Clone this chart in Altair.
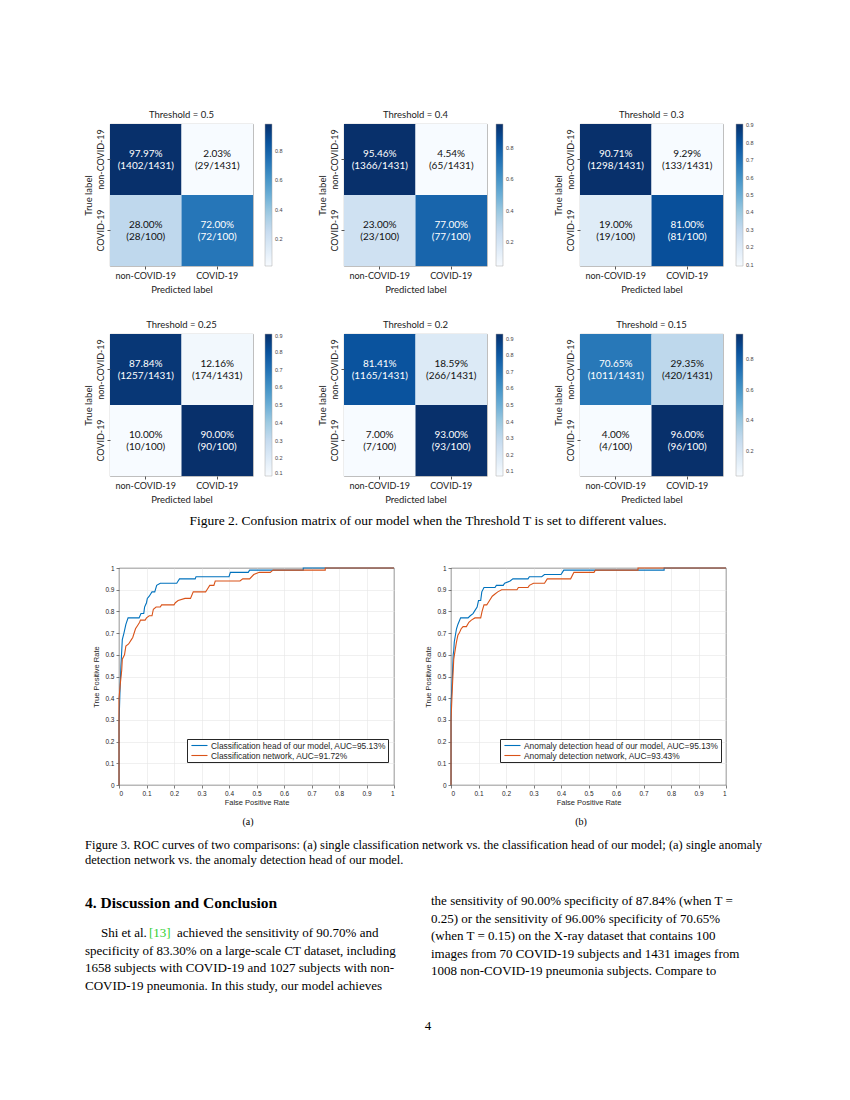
import altair as alt
import pandas as pd
import numpy as np

# ---------------- data ----------------
CLASSES = ["non-COVID-19", "COVID-19"]
THRESHOLDS = ["0.5", "0.4", "0.3", "0.25", "0.2", "0.15"]
NEG_TOTAL = 1431
POS_TOTAL = 100
TN = [1402, 1366, 1298, 1257, 1165, 1011]
FP = [29, 65, 133, 174, 266, 420]
FN = [28, 23, 19, 10, 7, 4]
TP = [72, 77, 81, 90, 93, 96]
CBAR_TICKS = [
    [0.2, 0.4, 0.6, 0.8],
    [0.2, 0.4, 0.6, 0.8],
    [0.1, 0.2, 0.3, 0.4, 0.5, 0.6, 0.7, 0.8, 0.9],
    [0.1, 0.2, 0.3, 0.4, 0.5, 0.6, 0.7, 0.8, 0.9],
    [0.1, 0.2, 0.3, 0.4, 0.5, 0.6, 0.7, 0.8, 0.9],
    [0.2, 0.4, 0.6, 0.8],
]

ROC_TICKS = [0, 0.1, 0.2, 0.3, 0.4, 0.5, 0.6, 0.7, 0.8, 0.9, 1]

ROC_A_NAMES = ["Classification head of our model, AUC=95.13%",
               "Classification network, AUC=91.72%"]
ROC_A_BLUE_FPR = [0, 0, 0.004, 0.007, 0.01, 0.012, 0.018, 0.025, 0.033, 0.073, 0.08, 0.09, 0.093,
                  0.1, 0.103, 0.11, 0.115, 0.12, 0.13, 0.137, 0.15, 0.21, 0.215, 0.22, 0.277,
                  0.28, 0.40, 0.405, 0.47, 0.475, 0.67, 0.67, 1]
ROC_A_BLUE_TPR = [0, 0.28, 0.45, 0.55, 0.62, 0.67, 0.70, 0.74, 0.77, 0.77, 0.79, 0.79, 0.82,
                  0.84, 0.86, 0.87, 0.88, 0.89, 0.89, 0.92, 0.93, 0.93, 0.94, 0.95, 0.95,
                  0.96, 0.96, 0.98, 0.98, 0.99, 0.99, 1.0, 1.0]
ROC_A_ORANGE_FPR = [0, 0, 0.005, 0.01, 0.012, 0.02, 0.025, 0.035, 0.045, 0.05, 0.06, 0.07, 0.075,
                    0.078, 0.095, 0.1, 0.11, 0.12, 0.125, 0.135, 0.15, 0.155, 0.2, 0.205, 0.215,
                    0.24, 0.26, 0.27, 0.315, 0.32, 0.33, 0.345, 0.35, 0.44, 0.45, 0.475, 0.49,
                    0.51, 0.55, 0.56, 0.75, 0.75, 1]
ROC_A_ORANGE_TPR = [0, 0.40, 0.47, 0.53, 0.58, 0.60, 0.64, 0.65, 0.67, 0.68, 0.72, 0.74, 0.75,
                    0.76, 0.76, 0.77, 0.78, 0.78, 0.81, 0.82, 0.82, 0.83, 0.83, 0.84, 0.85,
                    0.86, 0.86, 0.89, 0.89, 0.90, 0.92, 0.92, 0.94, 0.94, 0.95, 0.95, 0.97,
                    0.98, 0.98, 0.99, 0.99, 1.0, 1.0]

ROC_B_NAMES = ["Anomaly detection head of our model, AUC=95.13%",
               "Anomaly detection network, AUC=93.43%"]
ROC_B_BLUE_FPR = [0, 0, 0.005, 0.008, 0.01, 0.012, 0.02, 0.025, 0.035, 0.062, 0.07, 0.08, 0.085,
                  0.095, 0.1, 0.108, 0.112, 0.12, 0.16, 0.165, 0.19, 0.195, 0.215, 0.225, 0.28,
                  0.285, 0.33, 0.34, 0.40, 0.405, 0.41, 0.775, 0.775, 1]
ROC_B_BLUE_TPR = [0, 0.37, 0.50, 0.60, 0.62, 0.66, 0.72, 0.74, 0.77, 0.77, 0.78, 0.79, 0.80,
                  0.82, 0.85, 0.85, 0.89, 0.91, 0.91, 0.92, 0.92, 0.93, 0.94, 0.95, 0.95,
                  0.96, 0.96, 0.97, 0.97, 0.98, 0.99, 0.99, 1.0, 1.0]
ROC_B_ORANGE_FPR = [0, 0, 0.005, 0.01, 0.015, 0.02, 0.025, 0.03, 0.037, 0.044, 0.056, 0.065,
                    0.074, 0.087, 0.108, 0.113, 0.12, 0.13, 0.135, 0.15, 0.16, 0.17, 0.184,
                    0.24, 0.245, 0.28, 0.285, 0.30, 0.34, 0.35, 0.435, 0.447, 0.52, 0.525,
                    0.68, 0.68, 1]
ROC_B_ORANGE_TPR = [0, 0.30, 0.45, 0.58, 0.62, 0.66, 0.69, 0.70, 0.72, 0.73, 0.73, 0.75,
                    0.76, 0.77, 0.77, 0.80, 0.83, 0.83, 0.84, 0.87, 0.88, 0.89, 0.90,
                    0.90, 0.91, 0.91, 0.92, 0.93, 0.93, 0.95, 0.95, 0.98, 0.98, 0.99,
                    0.99, 1.0, 1.0]

FIG2_CAPTION = "Figure 2. Confusion matrix of our model when the Threshold T is set to different values."
FIG3_CAPTION = [
    "Figure 3. ROC curves of two comparisons: (a) single classification network vs. the classification head of our model; (a) single anomaly",
    "detection network vs. the anomaly detection head of our model.",
]
HEADING = "4. Discussion and Conclusion"
LEFT_FIRST = ["Shi et al.", "[13]", "achieved the sensitivity of 90.70% and"]
LEFT_LINES = [
    "specificity of 83.30% on a large-scale CT dataset, including",
    "1658 subjects with COVID-19 and 1027 subjects with non-",
    "COVID-19 pneumonia.  In this study, our model achieves",
]
RIGHT_LINES = [
    "the sensitivity of 90.00% specificity of 87.84% (when T =",
    "0.25) or the sensitivity of 96.00% specificity of 70.65%",
    "(when T = 0.15) on the X-ray dataset that contains 100",
    "images from 70 COVID-19 subjects and 1431 images from",
    "1008 non-COVID-19 pneumonia subjects.  Compare to",
]

# ---------------- styles ----------------
BLUES = ["#f7fbff", "#deebf7", "#c6dbef", "#9ecae1", "#6baed6",
         "#4292c6", "#2171b5", "#08519c", "#08306b"]
ROC_COLORS = ["#0072BD", "#D95319"]
HM_FONT = "Lato"
ROC_FONT = "Liberation Sans"
SERIF = "Liberation Serif"
HM_W, HM_H = 143, 142
ROC_W, ROC_H = 275, 217
PAGE_W = 826


def spacer(w, h):
    return alt.Chart(pd.DataFrame({"v": [0]})).mark_point(opacity=0).encode(
        x=alt.value(0), y=alt.value(0)
    ).properties(width=w, height=h)


def heatmap(k, legend_offset):
    rows = [
        (CLASSES[0], CLASSES[0], TN[k], NEG_TOTAL),
        (CLASSES[0], CLASSES[1], FP[k], NEG_TOTAL),
        (CLASSES[1], CLASSES[0], FN[k], POS_TOTAL),
        (CLASSES[1], CLASSES[1], TP[k], POS_TOTAL),
    ]
    df = pd.DataFrame(rows, columns=["true", "pred", "n", "total"])
    df["rate"] = df["n"] / df["total"]
    df["pct"] = [f"{r * 100:.2f}%" for r in df["rate"]]
    df["frac"] = [f"({n}/{t})" for n, t in zip(df["n"], df["total"])]
    lo, hi = float(df["rate"].min()), float(df["rate"].max())
    df["dark"] = df["rate"] > (lo + hi) / 2
    dom = [float(v) for v in np.linspace(lo, hi, len(BLUES))]

    x = alt.X("pred:N", sort=CLASSES, title="Predicted label",
              axis=alt.Axis(labelAngle=0, labelFont=HM_FONT, labelFontSize=9,
                            labelColor="#222", titleFont=HM_FONT, titleFontSize=9.5,
                            titleFontWeight="normal", titleColor="#222", titlePadding=4,
                            domain=False, tickSize=3, tickColor="#555", labelPadding=2))
    y = alt.Y("true:N", sort=CLASSES, title="True label",
              axis=alt.Axis(labelAngle=-90, labelFont=HM_FONT, labelFontSize=9,
                            labelColor="#222", titleFont=HM_FONT, titleFontSize=9.5,
                            titleFontWeight="normal", titleColor="#222", titlePadding=3,
                            domain=False, tickSize=3, tickColor="#555", labelPadding=2))
    base = alt.Chart(df).encode(x=x, y=y)
    rect = base.mark_rect().encode(
        color=alt.Color("rate:Q",
                        scale=alt.Scale(domain=dom, range=BLUES, interpolate="rgb"),
                        legend=alt.Legend(title=None, values=CBAR_TICKS[k], format=".1f",
                                          gradientLength=HM_H, gradientThickness=7,
                                          offset=legend_offset, labelFontSize=5.5,
                                          labelFont=ROC_FONT, labelColor="#444",
                                          labelOffset=3, gradientStrokeColor="#aaa",
                                          gradientStrokeWidth=0.5, direction="vertical",
                                          orient="right"))
    )
    tcol = alt.condition("datum.dark", alt.value("white"), alt.value("#111"))
    t1 = base.mark_text(font=HM_FONT, fontSize=10, dy=-6).encode(text="pct:N", color=tcol)
    t2 = base.mark_text(font=HM_FONT, fontSize=10, dy=6).encode(text="frac:N", color=tcol)
    return alt.layer(rect, t1, t2).properties(
        width=HM_W, height=HM_H,
        title=alt.TitleParams(f"Threshold = {THRESHOLDS[k]}", font=HM_FONT, fontSize=9.5,
                              fontWeight="normal", color="#222", offset=5, anchor="middle"),
        view=alt.ViewBackground(stroke="#9a9a9a", strokeWidth=0.8),
    )


def roc(names, fprs, tprs, legend_x, legend_y):
    frames = []
    for name, f, t in zip(names, fprs, tprs):
        frames.append(pd.DataFrame({"series": name, "fpr": f, "tpr": t,
                                    "i": list(range(len(f)))}))
    df = pd.concat(frames, ignore_index=True)
    ax = dict(values=ROC_TICKS, format="~g", labelFont=ROC_FONT, labelFontSize=6.5,
              labelColor="#262626", titleFont=ROC_FONT, titleFontSize=7.5,
              titleFontWeight="normal", titleColor="#262626", domain=False,
              tickSize=3, tickColor="#262626", tickWidth=0.6, grid=True,
              gridColor="#e6e6e6", gridWidth=0.6, labelPadding=2)
    return alt.Chart(df).mark_line(strokeWidth=1.1).encode(
        x=alt.X("fpr:Q", scale=alt.Scale(domain=[0, 1], nice=False),
                axis=alt.Axis(title="False Positive Rate", titlePadding=2, **ax)),
        y=alt.Y("tpr:Q", scale=alt.Scale(domain=[0, 1], nice=False),
                axis=alt.Axis(title="True Positive Rate", titlePadding=4, **ax)),
        color=alt.Color("series:N", scale=alt.Scale(domain=names, range=ROC_COLORS),
                        legend=alt.Legend(title=None, orient="none", legendX=legend_x,
                                          legendY=legend_y, symbolType="M-0.6,0H4",
                                          symbolSize=49, symbolStrokeWidth=1.1,
                                          labelOffset=13, labelFont=ROC_FONT,
                                          labelFontSize=8.4, labelColor="#262626",
                                          labelLimit=400, strokeColor="#262626",
                                          fillColor="white", padding=2, rowPadding=1)),
        order=alt.Order("i:Q"),
    ).properties(width=ROC_W, height=ROC_H,
                 view=alt.ViewBackground(stroke="#262626", strokeWidth=0.8))


def txt(s, x, y, size, align="left", weight="normal", color="black", font=SERIF):
    return alt.Chart(pd.DataFrame({"t": [s]})).mark_text(
        font=font, fontSize=size, align=align, baseline="middle", fontWeight=weight, color=color
    ).encode(text="t:N", x=alt.value(x), y=alt.value(y))


# caption of figure 2 (origin at page y = 473)
cap2 = alt.layer(txt(FIG2_CAPTION, 417, 45, 13.5, align="center")).properties(
    width=PAGE_W, height=92)

# bottom text block (origin at page y = 782)
LM = 74            # left margin (relative)
RC = 420           # right column start (relative)
LS = 17.5          # line spacing
layers = [
    txt("(a)", 237, 37, 10, align="center"),
    txt("(b)", 570, 37, 10, align="center"),
    txt(FIG3_CAPTION[0], LM, 60, 12.5),
    txt(FIG3_CAPTION[1], LM, 75, 12.5),
    txt(HEADING, LM, 118, 15.5, weight="bold"),
    txt(LEFT_FIRST[0], LM + 16, 148, 13),
    txt(LEFT_FIRST[1], LM + 64, 148, 13, color="#2fcf2f"),
    txt(LEFT_FIRST[2], LM + 92, 148, 13),
    txt("4", 417, 241, 13, align="center"),
]
for j, s in enumerate(LEFT_LINES):
    layers.append(txt(s, LM, 148 + LS * (j + 1), 13))
for j, s in enumerate(RIGHT_LINES):
    layers.append(txt(s, RC, 116 + LS * j, 13))
body = alt.layer(*layers).properties(width=PAGE_W, height=258)


def hrow(items):
    return alt.hconcat(*items, spacing=0, bounds="flush").resolve_scale(
        color="independent", x="independent", y="independent")


row1 = hrow([spacer(99, 1), heatmap(0, 12), spacer(91, 1), heatmap(1, 9),
             spacer(93, 1), heatmap(2, 13)])
row2 = hrow([spacer(99, 1), heatmap(3, 12), spacer(91, 1), heatmap(4, 9),
             spacer(93, 1), heatmap(5, 13)])
row3 = hrow([spacer(108, 1),
             roc(ROC_A_NAMES, [ROC_A_BLUE_FPR, ROC_A_ORANGE_FPR],
                 [ROC_A_BLUE_TPR, ROC_A_ORANGE_TPR], 68, 171),
             spacer(57, 1),
             roc(ROC_B_NAMES, [ROC_B_BLUE_FPR, ROC_B_ORANGE_FPR],
                 [ROC_B_BLUE_TPR, ROC_B_ORANGE_TPR], 49, 171)])

chart = alt.vconcat(
    spacer(1, 113), row1, spacer(1, 210), row2, spacer(1, 142), cap2,
    row3, spacer(1, 217), body,
    spacing=0, bounds="flush",
).resolve_scale(
    color="independent", x="independent", y="independent"
).properties(padding=0).configure_view(stroke=None)

chart.save("out.html", embed_options={"renderer": "svg", "actions": False})
